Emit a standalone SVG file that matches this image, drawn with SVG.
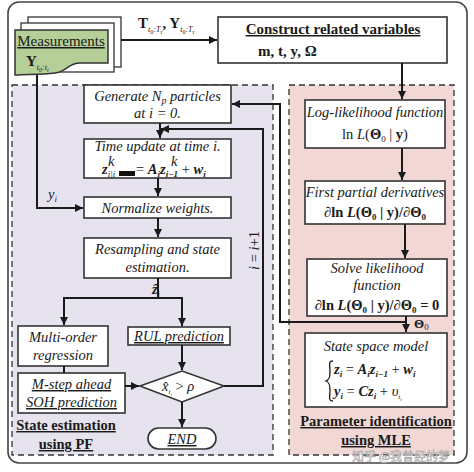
<svg xmlns="http://www.w3.org/2000/svg" width="474" height="472" viewBox="0 0 474 472">
<defs>
<marker id="ah" viewBox="0 0 10 10" refX="10" refY="5" markerWidth="8" markerHeight="8" markerUnits="userSpaceOnUse" orient="auto">
<path d="M0,0 L10,5 L0,10 z" fill="#1a1a1a"/>
</marker>
<style>
text{font-family:"Liberation Serif","Times New Roman",serif;fill:#1a1a1a;}
.box{fill:#fff;stroke:#333;stroke-width:1.6;}
.it{font-style:italic;font-size:14.5px;}
.b{font-weight:bold;}
.u{text-decoration:underline;}
.c{text-anchor:middle;}
.conn{fill:none;stroke:#1a1a1a;stroke-width:2;}
.region{stroke:#333;stroke-width:1.3;stroke-dasharray:6 4;}
</style>
</defs>
<rect width="474" height="472" fill="#fff"/>
<rect x="8" y="2" width="459" height="461" rx="11" fill="none" stroke="#444" stroke-width="1.6"/>

<g id="region-pf">
<rect class="region" x="12" y="85" width="261" height="370" fill="#e6e2ee"/>
<text class="b u c" x="66" y="430" font-size="14.5">State estimation</text>
<text class="b u c" x="66" y="449" font-size="14.5">using PF</text>
</g>
<g id="region-mle">
<rect class="region" x="289" y="85" width="165" height="370" fill="#f2d8d5"/>
<text class="b u c" x="376" y="426" font-size="14.5">Parameter identification</text>
<text class="b u c" x="376" y="445" font-size="14.5">using MLE</text>
</g>

<g id="measurements">
<rect x="28" y="17" width="93" height="50" fill="#fff" stroke="#333" stroke-width="1.3"/>
<rect x="21" y="23" width="93" height="49" fill="#fff" stroke="#333" stroke-width="1.3"/>
<path d="M15,30 H108 V63 H80 C68,63 66,72 55,73 C40,75 25,74 15,75 Z" fill="#b6cf99" stroke="#333" stroke-width="1.5"/>
<text class="u c" x="61" y="46" font-size="15">Measurements</text>
<text class="b" x="26" y="66" font-size="15">Y<tspan font-size="8" font-style="italic" font-weight="normal" dy="4">t<tspan font-size="6" dy="2">0</tspan><tspan dy="-2">:t</tspan><tspan font-size="6" dy="2">i</tspan></tspan></text>
</g>

<g id="construct">
<rect class="box" x="218" y="17" width="229" height="46"/>
<text class="b u c" x="333" y="34" font-size="15">Construct  related variables</text>
<text class="b" x="258" y="56" font-size="15">m, t, y, Ω</text>
</g>

<g id="generate">
<rect class="box" x="84" y="85" width="147" height="38"/>
<text class="it c" x="157.5" y="101">Generate <tspan>N</tspan><tspan font-size="10" dy="3">p</tspan><tspan dy="-3"> particles</tspan></text>
<text class="it c" x="157.5" y="118">at  i = 0.</text>
</g>

<g id="time-update">
<rect class="box" x="84" y="139" width="147" height="39"/>
<text class="it c" x="157.5" y="151">Time update at time i.</text>
<text class="it" x="102" y="174" font-weight="bold">z<tspan font-size="9" dy="3" font-weight="normal">i|i</tspan></text>
<rect x="119" y="171" width="16" height="5" fill="#111"/>
<text class="it" x="136" y="174"><tspan font-style="normal">=</tspan> <tspan font-weight="bold">A</tspan><tspan font-size="9" dy="3" font-weight="bold">i</tspan><tspan dy="-3" font-weight="bold">z</tspan><tspan font-size="9" dy="3" font-weight="bold">i−1</tspan><tspan dy="-3"> </tspan><tspan font-style="normal">+</tspan> <tspan font-weight="bold">w</tspan><tspan font-size="9" dy="3" font-weight="bold">i</tspan></text>
<text class="it" x="108" y="166" font-size="7">k</text>
<text class="it" x="171" y="166" font-size="7">k</text>
</g>

<g id="normalize">
<rect class="box" x="84" y="197" width="147" height="21"/>
<text class="it c" x="157.5" y="213">Normalize weights.</text>
</g>

<g id="resampling">
<rect class="box" x="84" y="238" width="147" height="40"/>
<text class="it c" x="157.5" y="254">Resampling and state</text>
<text class="it c" x="157.5" y="272">estimation.</text>
</g>

<g id="multi-order">
<rect class="box" x="18" y="326" width="90" height="40"/>
<text class="it c" x="63" y="342">Multi-order</text>
<text class="it c" x="63" y="360">regression</text>
</g>

<g id="rul">
<rect class="box" x="128" y="327" width="102" height="18"/>
<text class="it u c" x="179" y="341">RUL prediction</text>
</g>

<g id="m-step">
<rect class="box" x="18" y="373" width="107" height="40"/>
<text class="it u c" x="71.5" y="389">M-step ahead</text>
<text class="it u c" x="71.5" y="407">SOH prediction</text>
</g>

<g id="decision">
<path d="M140,386 L182,371 L224,386 L182,402 Z" fill="#fff" stroke="#333" stroke-width="1.6"/>
<text class="it" x="162" y="391">x̂<tspan font-size="7" dy="3">t</tspan><tspan font-size="5" dy="2">i</tspan><tspan dy="-5"> </tspan><tspan font-style="normal">&gt;</tspan> ρ</text>
</g>

<g id="end">
<rect class="box" x="148" y="428" width="68" height="21" rx="10.5"/>
<text class="it u c" x="182" y="444">END</text>
</g>

<g id="loglik">
<rect class="box" x="305" y="100" width="140" height="48"/>
<text class="it c" x="375" y="117">Log-likelihood function</text>
<text class="c" x="375" y="139" font-size="14.5">ln <tspan font-style="italic">L</tspan>(<tspan font-weight="bold">Θ</tspan><tspan font-size="9" dy="3">0</tspan><tspan dy="-3"> | </tspan><tspan font-weight="bold">y</tspan>)</text>
</g>

<g id="first-partial">
<rect class="box" x="305" y="181" width="140" height="43"/>
<text class="it c" x="375" y="197">First partial derivatives</text>
<text class="c b" x="375" y="217" font-size="14.5">∂ln <tspan font-style="italic">L</tspan>(Θ<tspan font-size="9" dy="3">0</tspan><tspan dy="-3"> | y)/∂Θ</tspan><tspan font-size="9" dy="3">0</tspan></text>
</g>

<g id="solve">
<rect class="box" x="307" y="259" width="140" height="57"/>
<text class="it c" x="377" y="273">Solve likelihood</text>
<text class="it c" x="377" y="290">function</text>
<text class="c b" x="377" y="310" font-size="14.5">∂ln <tspan font-style="italic">L</tspan>(Θ<tspan font-size="9" dy="3">0</tspan><tspan dy="-3"> | y)/∂Θ</tspan><tspan font-size="9" dy="3">0</tspan><tspan dy="-3"> = 0</tspan></text>
</g>

<g id="state-space">
<rect class="box" x="305" y="333" width="142" height="74"/>
<text class="it c" x="376" y="351">State space model</text>
<path d="M333,361 C328,361 330,364 330,372 C330,378 329,380 326,381 C329,382 330,384 330,390 C330,398 328,401 333,401" fill="none" stroke="#1a1a1a" stroke-width="1.3"/>
<text class="it b" x="334" y="374" font-size="14.5">z<tspan font-size="9" dy="3">i</tspan><tspan dy="-3" font-style="normal" font-weight="normal"> = </tspan>A<tspan font-size="9" dy="3">i</tspan><tspan dy="-3">z</tspan><tspan font-size="9" dy="3">i−1</tspan><tspan dy="-3" font-style="normal" font-weight="normal"> + </tspan>w<tspan font-size="9" dy="3">i</tspan></text>
<text class="it b" x="334" y="396" font-size="14.5">y<tspan font-size="9" dy="3">i</tspan><tspan dy="-3" font-style="normal" font-weight="normal"> = </tspan>Cz<tspan font-size="9" dy="3">i</tspan><tspan dy="-3" font-style="normal" font-weight="normal"> + </tspan><tspan font-weight="normal">υ</tspan><tspan font-size="7" dy="3" font-weight="normal">t</tspan><tspan font-size="5" dy="2" font-weight="normal">i</tspan></text>
</g>

<g id="connectors">
<path class="conn" d="M121,40 H217" marker-end="url(#ah)"/>
<path class="conn" d="M402,63 V99" marker-end="url(#ah)"/>
<path class="conn" d="M402,148 V180" marker-end="url(#ah)"/>
<path class="conn" d="M405,224 V258" marker-end="url(#ah)"/>
<path class="conn" d="M406,316 V332" marker-end="url(#ah)"/>
<path class="conn" d="M406,322 H280 V104 H232" marker-end="url(#ah)"/>
<path class="conn" d="M160,123 V138" marker-end="url(#ah)"/>
<path class="conn" d="M224,386 H263 V129 H161" marker-end="url(#ah)"/>
<path class="conn" d="M158,178 V196" marker-end="url(#ah)"/>
<path class="conn" d="M37,75 V208 H83" marker-end="url(#ah)"/>
<path class="conn" d="M158,218 V237" marker-end="url(#ah)"/>
<path class="conn" d="M158,278 V298"/>
<path class="conn" d="M63,298 H183"/>
<path class="conn" d="M64,297 V325" marker-end="url(#ah)"/>
<path class="conn" d="M182,297 V326" marker-end="url(#ah)"/>
<path class="conn" d="M64,366 V373"/>
<path class="conn" d="M125,386 H139" marker-end="url(#ah)"/>
<path class="conn" d="M182,345 V370" marker-end="url(#ah)"/>
<path class="conn" d="M182,402 V427" marker-end="url(#ah)"/>
<text class="it" x="48" y="199" font-size="14">y<tspan font-size="9" dy="3">i</tspan></text>
<text class="b it" x="152" y="294" font-size="13">ẑ<tspan font-size="8" dy="3" font-weight="normal">i</tspan></text>
<text class="b" x="414" y="328" font-size="13">Θ<tspan font-size="9" dy="2" font-weight="normal">0</tspan></text>
<text class="it" x="0" y="0" font-size="14" transform="translate(259,270) rotate(-90)">i <tspan font-style="normal">=</tspan> i<tspan font-style="normal">+1</tspan></text>
<text x="138" y="28" font-size="15" font-weight="bold">T<tspan font-size="8" font-style="italic" font-weight="normal" dy="4">t</tspan><tspan font-size="6" font-weight="normal" dy="2">0</tspan><tspan font-size="8" font-style="italic" font-weight="normal" dy="-2">:T</tspan><tspan font-size="6" font-weight="normal" dy="2">r</tspan><tspan dy="-6">, Y</tspan><tspan font-size="8" font-style="italic" font-weight="normal" dy="4">t</tspan><tspan font-size="6" font-weight="normal" dy="2">0</tspan><tspan font-size="8" font-style="italic" font-weight="normal" dy="-2">:T</tspan><tspan font-size="6" font-weight="normal" dy="2">r</tspan></text>
</g>
<text x="352" y="461" font-size="12" stroke="#aaa" stroke-width="0.6" style="font-family:'Noto Sans CJK SC',sans-serif;fill:#f4f4f4;">知乎 @我曾经的梦</text>
</svg>
